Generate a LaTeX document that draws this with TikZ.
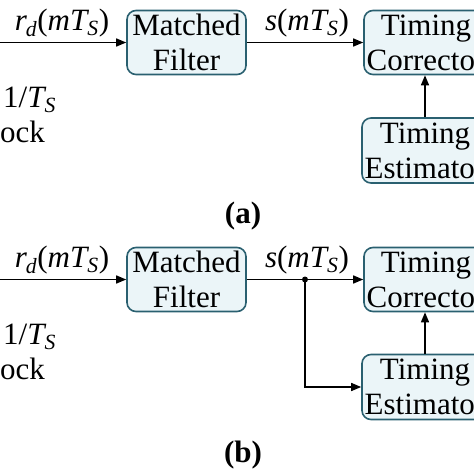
\documentclass[tikz,border=0pt]{standalone}
\usepackage{fontspec}
\setmainfont{Liberation Serif}
\usetikzlibrary{arrows.meta,calc}
\definecolor{boxfill}{HTML}{EBF5F8}
\definecolor{boxline}{HTML}{2A6070}
\newcommand{\rdlabel}{\textit{r}\textsubscript{\kern-0.05em\textit{d}}(\textit{mT}\textsubscript{\kern-0.08em\textit{S}})}
\newcommand{\slabel}{\textit{s}(\textit{mT}\textsubscript{\kern-0.08em\textit{S}})}
\begin{document}
\begin{tikzpicture}[x=1pt,y=-1pt,
  blk/.style={draw=boxline,fill=boxfill,line width=1.6pt,rounded corners=9pt,
    align=center,inner sep=0pt,font=\fontsize{31}{35}\selectfont},
  lbl/.style={font=\fontsize{31}{35}\selectfont,inner sep=0pt,anchor=base},
  arr/.style={line width=1.4pt,-{Triangle[length=10pt,width=8pt]}},
  ln/.style={line width=1.4pt}]
\useasboundingbox (0,0) rectangle (474,474);
\clip (0,0) rectangle (474,474);
% ---------- panel (a) ----------
\node[blk,minimum width=119pt,minimum height=64pt] (a-mf) at (186.5,42.5) {Matched\\Filter};
\node[blk,minimum width=124pt,minimum height=64pt] (a-cor) at (426,42.5) {Timing\\Corrector};
\node[blk,minimum width=126pt,minimum height=65pt] (a-est) at (425,150.5) {Timing\\Estimator};
\coordinate (a-in) at (-5,42.5);
\draw[arr] (a-in) -- (a-mf.west);
\draw[arr] (a-mf.east) -- (a-cor.west);
\draw[arr] (a-est.north) -- (a-est.north |- a-cor.south);
\node[lbl] (a-rd) at (62,30) {\rdlabel};
\node[lbl] (a-s) at (307,30) {\slabel};
\node[lbl,anchor=base west] (a-ts) at (3,107) {1/\textit{T}\textsubscript{\kern-0.08em\textit{S}}};
\node[lbl,anchor=base west] (a-ck) at (0,142) {ock};
\node[lbl,font=\fontsize{31}{35}\selectfont\bfseries] (a-cap) at (243,223) {(a)};
% ---------- panel (b) ----------
\node[blk,minimum width=119pt,minimum height=64pt] (b-mf) at (186.5,279.5) {Matched\\Filter};
\node[blk,minimum width=124pt,minimum height=64pt] (b-cor) at (426,279.5) {Timing\\Corrector};
\node[blk,minimum width=126pt,minimum height=65pt] (b-est) at (425,387) {Timing\\Estimator};
\coordinate (b-in) at (-5,279.5);
\coordinate (b-j) at ($(b-mf.east)!0.5!(b-cor.west)$);
\draw[arr] (b-in) -- (b-mf.west);
\draw[arr] (b-mf.east) -- (b-cor.west);
\draw[arr] (b-j) |- (b-est.west);
\fill (b-j) circle (3pt);
\draw[arr] (b-est.north) -- (b-est.north |- b-cor.south);
\node[lbl] (b-rd) at (62,267) {\rdlabel};
\node[lbl] (b-s) at (307,267) {\slabel};
\node[lbl,anchor=base west] (b-ts) at (3,344) {1/\textit{T}\textsubscript{\kern-0.08em\textit{S}}};
\node[lbl,anchor=base west] (b-ck) at (0,379) {ock};
\node[lbl,font=\fontsize{31}{35}\selectfont\bfseries] (b-cap) at (243,462) {(b)};
\end{tikzpicture}
\end{document}
